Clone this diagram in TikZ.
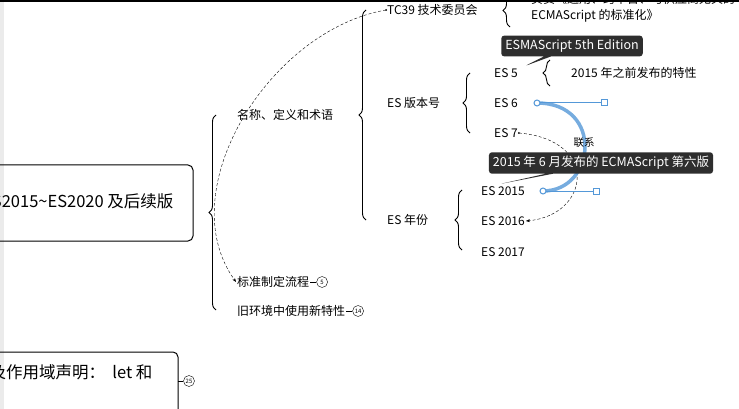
\documentclass[tikz,border=0pt]{standalone}
\usepackage{fontspec}
\setmainfont{Noto Sans CJK SC}
\usetikzlibrary{decorations.pathreplacing,arrows.meta,shapes.callouts,positioning}
\tikzset{
 lbl/.style={anchor=west,inner sep=1pt,font=\fontsize{12}{16}\selectfont},
 brc/.style={decorate,decoration={brace,amplitude=7pt},line width=0.9pt},
 badge/.style={circle,draw,inner sep=0pt,minimum size=11pt,font=\fontsize{6}{6}\selectfont},
 callout/.style={rectangle callout,fill=black!82,text=white,rounded corners=3pt,inner sep=4pt,font=\fontsize{12.5}{14}\selectfont},
 handle/.style={draw=cyan!60!blue!70,line width=1pt},
}
\begin{document}
\begin{tikzpicture}[x=1pt,y=-1pt]
\useasboundingbox (0,0) rectangle (739,409);
\fill[white] (0,0) rectangle (739,409);
\fill[black!8] (0,0) rectangle (4,409);
\fill[black] (0,0) rectangle (739,2);
% main boxes
\draw[line width=1pt,rounded corners=5pt] (-10,165) rectangle (193,241);
\node[anchor=east,font=\fontsize{16.5}{18}\selectfont] (root) at (177,201) {ES2015\textasciitilde ES2020 及后续版};
\draw[line width=1pt,rounded corners=5pt] (-10,352) rectangle (178,420);
\node[anchor=east,font=\fontsize{16.5}{18}\selectfont] (let) at (156,372) {及作用域声明：\ \ let 和};
\node[badge] (b25) at (189,381) {25};
\draw (178,381) -- (b25);
% level 1
\draw[brc] (216,310) -- (216,115);
\node[lbl] (names) at (236,115) {名称、定义和术语};
\node[lbl] (proc) at (236,282) {标准制定流程};
\node[lbl] (old) at (236,311) {旧环境中使用新特性};
\node[badge,right=6pt of proc] (b5) {5};
\node[badge,right=6pt of old] (b14) {14};
\draw (proc) -- (b5);
\draw (old) -- (b14);
% level 2
\draw[brc] (366,220) -- (366,10);
\node[lbl] (tc) at (386,10) {TC39 技术委员会};
\node[lbl] (ver) at (386,103) {ES 版本号};
\node[lbl] (year) at (386,220) {ES 年份};
\draw[brc] (510,27) -- (510,-6);
\node[lbl,align=left] (resp) at (530,8) {负责《通用、跨平台、与供应商无关的\\ECMAScript 的标准化》};
% versions
\draw[brc] (470,133) -- (470,73);
\node[lbl] (es5) at (493,73) {ES 5};
\node[lbl] (es6) at (493,103) {ES 6};
\node[lbl] (es7) at (493,133) {ES 7};
\draw[brc] (550,86) -- (550,60);
\node[lbl] (pre) at (570,73) {2015 年之前发布的特性};
\draw[brc] (462,250) -- (462,190);
\node[lbl] (e15) at (480,191) {ES 2015};
\node[lbl] (e16) at (480,221) {ES 2016};
\node[lbl] (e17) at (480,252) {ES 2017};
% dashed relations
\draw[densely dashed,-{Stealth[length=4pt]}] (tc.west) .. controls (270,30) and (170,190) .. (proc.west);
\fill (tc.west) circle (1);
\draw[densely dashed,-{Stealth[length=4pt]}] (es7.east) .. controls (600,140) and (590,215) .. (e16.east);
\fill (es7.east) circle (1);
% blue relation
\coordinate (c6) at (537,103);
\coordinate (c15) at (543,191);
\draw[cyan!60!blue!70,line width=3.5pt,opacity=0.8] (c6) .. controls (604,103) and (596,191) .. (c15);
\draw[handle] (c6) -- (604,103);
\draw[handle] (c15) -- (596,191);
\draw[handle,fill=white] (c6) circle (3);
\draw[handle,fill=white] (c15) circle (3);
\draw[handle,fill=white] (601,100) rectangle (607,106);
\draw[handle,fill=white] (593,188) rectangle (599,194);
\node[font=\fontsize{10.5}{11}\selectfont,inner sep=0.5pt] (rel) at (584,143) {联系};
% callouts
\node[callout,callout absolute pointer={(525,66)}] (co1) at (572,46) {ESMAScript 5th Edition};
\node[callout,callout absolute pointer={(500,184)}] (co2) at (601,163) {2015 年 6 月发布的 ECMAScript 第六版};
\end{tikzpicture}
\end{document}
